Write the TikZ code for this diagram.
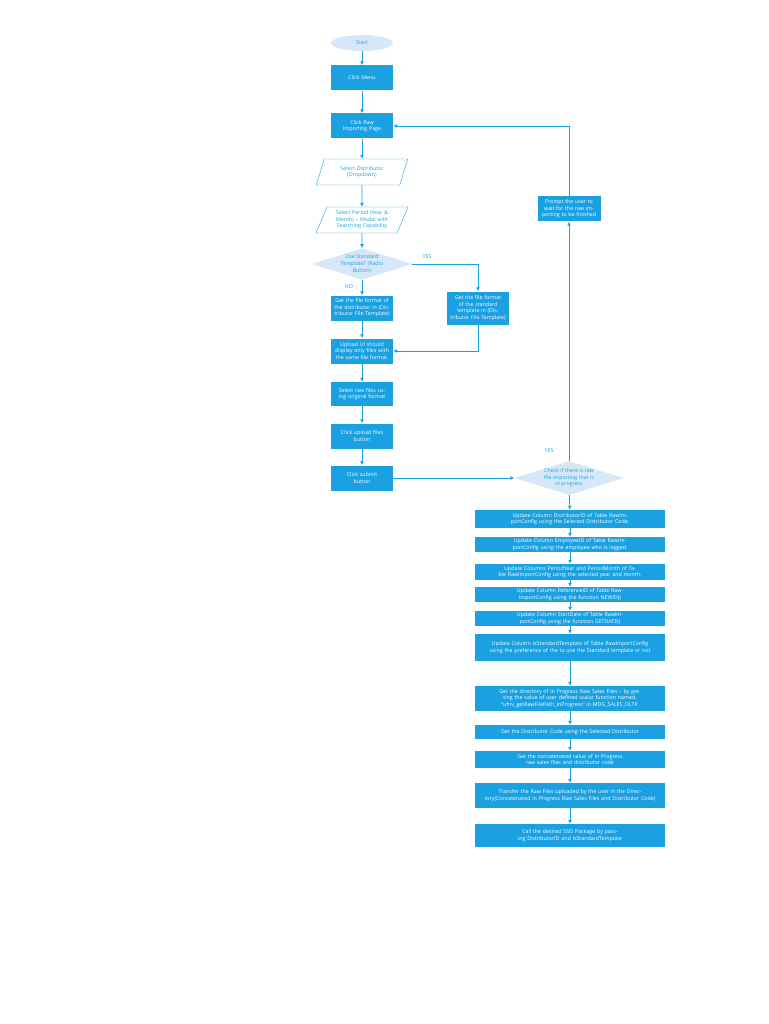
\documentclass[tikz,border=0pt]{standalone}
\usepackage{fontspec}
\setmainfont{Open Sans}
\usetikzlibrary{shapes.geometric,arrows.meta}
\definecolor{mblue}{HTML}{1BA1E2}
\definecolor{lblue}{HTML}{D6E8F7}
\begin{document}
\begin{tikzpicture}[x=1pt,y=-1pt,
 every node/.style={font=\fontsize{5.3}{6.6}\selectfont,align=center,inner sep=1pt},
 bx/.style={fill=mblue,text=white,minimum height=#1},
 sb/.style={bx=25,text width=60,minimum width=62},
 wb/.style={bx=#1,text width=188,minimum width=190},
 par/.style={trapezium,trapezium left angle=64,trapezium right angle=116,draw=mblue,text=mblue,fill=white,minimum width=92,minimum height=26,trapezium stretches=true,text width=62},
 dia/.style={diamond,fill=lblue,text=mblue,aspect=3.2,inner sep=0pt},
 ar/.style={draw=mblue,line width=0.8,-{Latex[length=4,width=4]}},
 lb/.style={text=mblue}]
\useasboundingbox (0,0) rectangle (768,1024);
\node[ellipse,fill=lblue,text=mblue,minimum width=62,minimum height=16] (start) at (362,43) {Start};
\node[sb] (menu) at (362,78) {Click Menu};
\node[sb] (raw) at (362,126) {Click Raw\\Importing Page};
\node[par] (dist) at (362,172) {Select Distributor\\(Dropdown)};
\node[par] (per) at (362,220) {Select Period (Year \& Month) -- Modal with Searching Capability};
\node[dia,minimum width=84,minimum height=26] (use) at (362,264) {Use Standard\\Template? (Radio\\Button)};
\node[sb] (ff) at (362,308) {Get the file format of the distributor in (Distributor File Template)};
\node[bx=33,text width=60,minimum width=62] (sf) at (478,308) {Get the file format of the standard template in (Distributor File Template)};
\node[sb] (up) at (362,351) {Upload UI should display only files with the same file format.};
\node[sb,bx=24] (sel) at (362,394) {Select raw files using original format};
\node[sb] (cu) at (362,436) {Click upload files\\button};
\node[sb] (cs) at (362,478) {Click submit\\button};
\node[dia,minimum width=82,minimum height=28] (chk) at (569,478) {Check if there is raw\\file importing that is\\in progress};
\node[sb,minimum width=63] (pr) at (569,209) {Prompt the user to wait for the raw importing to be finished};
\node[wb=18] (u1) at (570,519) {Update Column DistributorID of Table RawImportConfig using the Selected Distributor Code.};
\node[wb=15] (u2) at (570,544.5) {Update Column EmployeeID of Table RawImportConfig using the employee who is logged.};
\node[wb=16] (u3) at (570,572) {Update Columns PeriodYear and PeriodMonth of Table RawImportConfig using the selected year and month.};
\node[wb=15] (u4) at (570,594.5) {Update Column ReferenceID of Table RawImportConfig using the function NEWID()};
\node[wb=15] (u5) at (570,618.5) {Update Column StartDate of Table RawImportConfig using the function GETDATE()};
\node[wb=27] (u6) at (570,647.5) {Update Column IsStandardTemplate of Table RawImportConfig using the preference of the to use the Standard template or not};
\node[wb=25] (u7) at (570,698.5) {Get the directory of In Progress Raw Sales Files -- by getting the value of user defined scalar function named, ``ufnv\_getRawFilePath\_InProgress'' in MDG\_SALES\_OLTP.};
\node[wb=14] (u8) at (570,732) {Get the Distributor Code using the Selected Distributor};
\node[wb=17] (u9) at (570,759.5) {Get the concatenated value of In Progress raw sales files and distributor code};
\node[wb=25] (u10) at (570,795.5) {Transfer the Raw Files uploaded by the user in the Directory(Concatenated In Progress Raw Sales Files and Distributor Code)};
\node[wb=23] (u11) at (570,835.5) {Call the desired SSIS Package by passing DistributorID and IsStandardTemplate};
\draw[ar] (start) -- (menu);
\draw[ar] (menu) -- (raw);
\draw[ar] (raw) -- (dist);
\draw[ar] (dist) -- (per);
\draw[ar] (per) -- (use);
\draw[ar] (use) -- (ff);
\draw[ar] (use.east) -| (sf.north);
\draw[ar] (ff) -- (up);
\draw[ar] (sf.south) |- (up.east);
\draw[ar] (up) -- (sel);
\draw[ar] (sel) -- (cu);
\draw[ar] (cu) -- (cs);
\draw[ar] (cs) -- (chk);
\draw[ar] (chk) -- (pr);
\draw[ar] (pr.north) |- (raw.east);
\draw[ar] (chk) -- (u1);
\foreach \a/\b in {u1/u2,u2/u3,u3/u4,u4/u5,u5/u6,u6/u7,u7/u8,u8/u9,u9/u10,u10/u11} \draw[ar] (\a) -- (\b);
\node[lb] (no) at (349,287) {NO};
\node[lb] (yes1) at (427,257) {YES};
\node[lb] (yes2) at (549,451) {YES};
\end{tikzpicture}
\end{document}
